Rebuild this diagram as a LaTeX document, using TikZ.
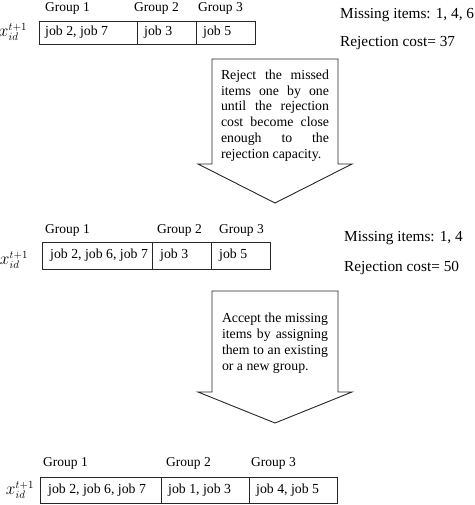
\documentclass[tikz,border=0pt]{standalone}
\usepackage{fontspec}
\setmainfont{Liberation Serif}
\begin{document}
\begin{tikzpicture}[x=1pt,y=-1pt,
  boxline/.style={draw=black!85, line width=0.9pt},
  celltxt/.style={anchor=west, inner sep=0pt, font=\fontsize{13.8}{16}\selectfont},
  grplbl/.style={anchor=west, inner sep=0pt, font=\fontsize{13.5}{16}\selectfont},
  sidetxt/.style={anchor=west, inner sep=0pt, font=\fontsize{15.3}{18}\selectfont},
  xlbl/.style={inner sep=0pt, font=\fontsize{16}{18}\selectfont},
  arrtxt/.style={inner sep=0pt, align=left, font=\fontsize{13.8}{15.8}\selectfont}
]
\useasboundingbox (0,0) rectangle (474,505);

% ---------- Row 1 ----------
\node[xlbl] (x1) at (13,32) {$x_{id}^{t+1}$};
\draw[boxline] (39,21) rectangle (255,44);
\draw[boxline] (137,21) -- (137,44);
\draw[boxline] (196,21) -- (196,44);
\node[grplbl] (g11) at (45,8) {Group 1};
\node[grplbl] (g12) at (134,8) {Group 2};
\node[grplbl] (g13) at (198,8) {Group 3};
\node[celltxt] (c11) at (45,32.5) {job 2, job 7};
\node[celltxt] (c12) at (144,32.5) {job 3};
\node[celltxt] (c13) at (203,32.5) {job 5};
\node[sidetxt] (m1) at (340,15) {Missing items: 1, 4, 6};
\node[sidetxt] (r1) at (340,43) {Rejection cost= 37};

% ---------- Arrow 1 ----------
\draw[boxline, line join=miter] (212,59) -- (338,59) -- (338,164) -- (352,164) -- (275,203)
  -- (198,164) -- (212,164) -- cycle;
\node[arrtxt] (a1) at (275,115.5) {%
\makebox[108pt][s]{Reject the missed}\\
\makebox[108pt][s]{items one by one}\\
\makebox[108pt][s]{until the rejection}\\
\makebox[108pt][s]{cost become close}\\
\makebox[108pt][s]{enough to the}\\
\makebox[108pt][l]{rejection capacity.}};

% ---------- Row 2 ----------
\node[xlbl] (x2) at (14,260) {$x_{id}^{t+1}$};
\draw[boxline] (42,242) rectangle (270,269);
\draw[boxline] (152,242) -- (152,269);
\draw[boxline] (211,242) -- (211,269);
\node[grplbl] (g21) at (45,230) {Group 1};
\node[grplbl] (g22) at (157,230) {Group 2};
\node[grplbl] (g23) at (219,230) {Group 3};
\node[celltxt] (c21) at (50,255.5) {job 2, job 6, job 7};
\node[celltxt] (c22) at (160,255.5) {job 3};
\node[celltxt] (c23) at (219,255.5) {job 5};
\node[sidetxt] (m2) at (344,238) {Missing items: 1, 4};
\node[sidetxt] (r2) at (344,268) {Rejection cost= 50};

% ---------- Arrow 2 ----------
\draw[boxline, line join=miter] (212,291) -- (338,291) -- (338,392) -- (352,392) -- (275,423)
  -- (198,392) -- (212,392) -- cycle;
\node[arrtxt] (a2) at (275,343) {%
\makebox[106pt][s]{Accept the missing}\\
\makebox[106pt][s]{items by assigning}\\
\makebox[106pt][s]{them to an existing}\\
\makebox[106pt][l]{or a new group.}};

% ---------- Row 3 ----------
\node[xlbl] (x3) at (20,490) {$x_{id}^{t+1}$};
\draw[boxline] (40,477) rectangle (337,503);
\draw[boxline] (161,477) -- (161,503);
\draw[boxline] (249,477) -- (249,503);
\node[grplbl] (g31) at (43,463) {Group 1};
\node[grplbl] (g32) at (166,463) {Group 2};
\node[grplbl] (g33) at (251,463) {Group 3};
\node[celltxt] (c31) at (48,490) {job 2, job 6, job 7};
\node[celltxt] (c32) at (168,490) {job 1, job 3};
\node[celltxt] (c33) at (256,490) {job 4, job 5};
\end{tikzpicture}
\end{document}
